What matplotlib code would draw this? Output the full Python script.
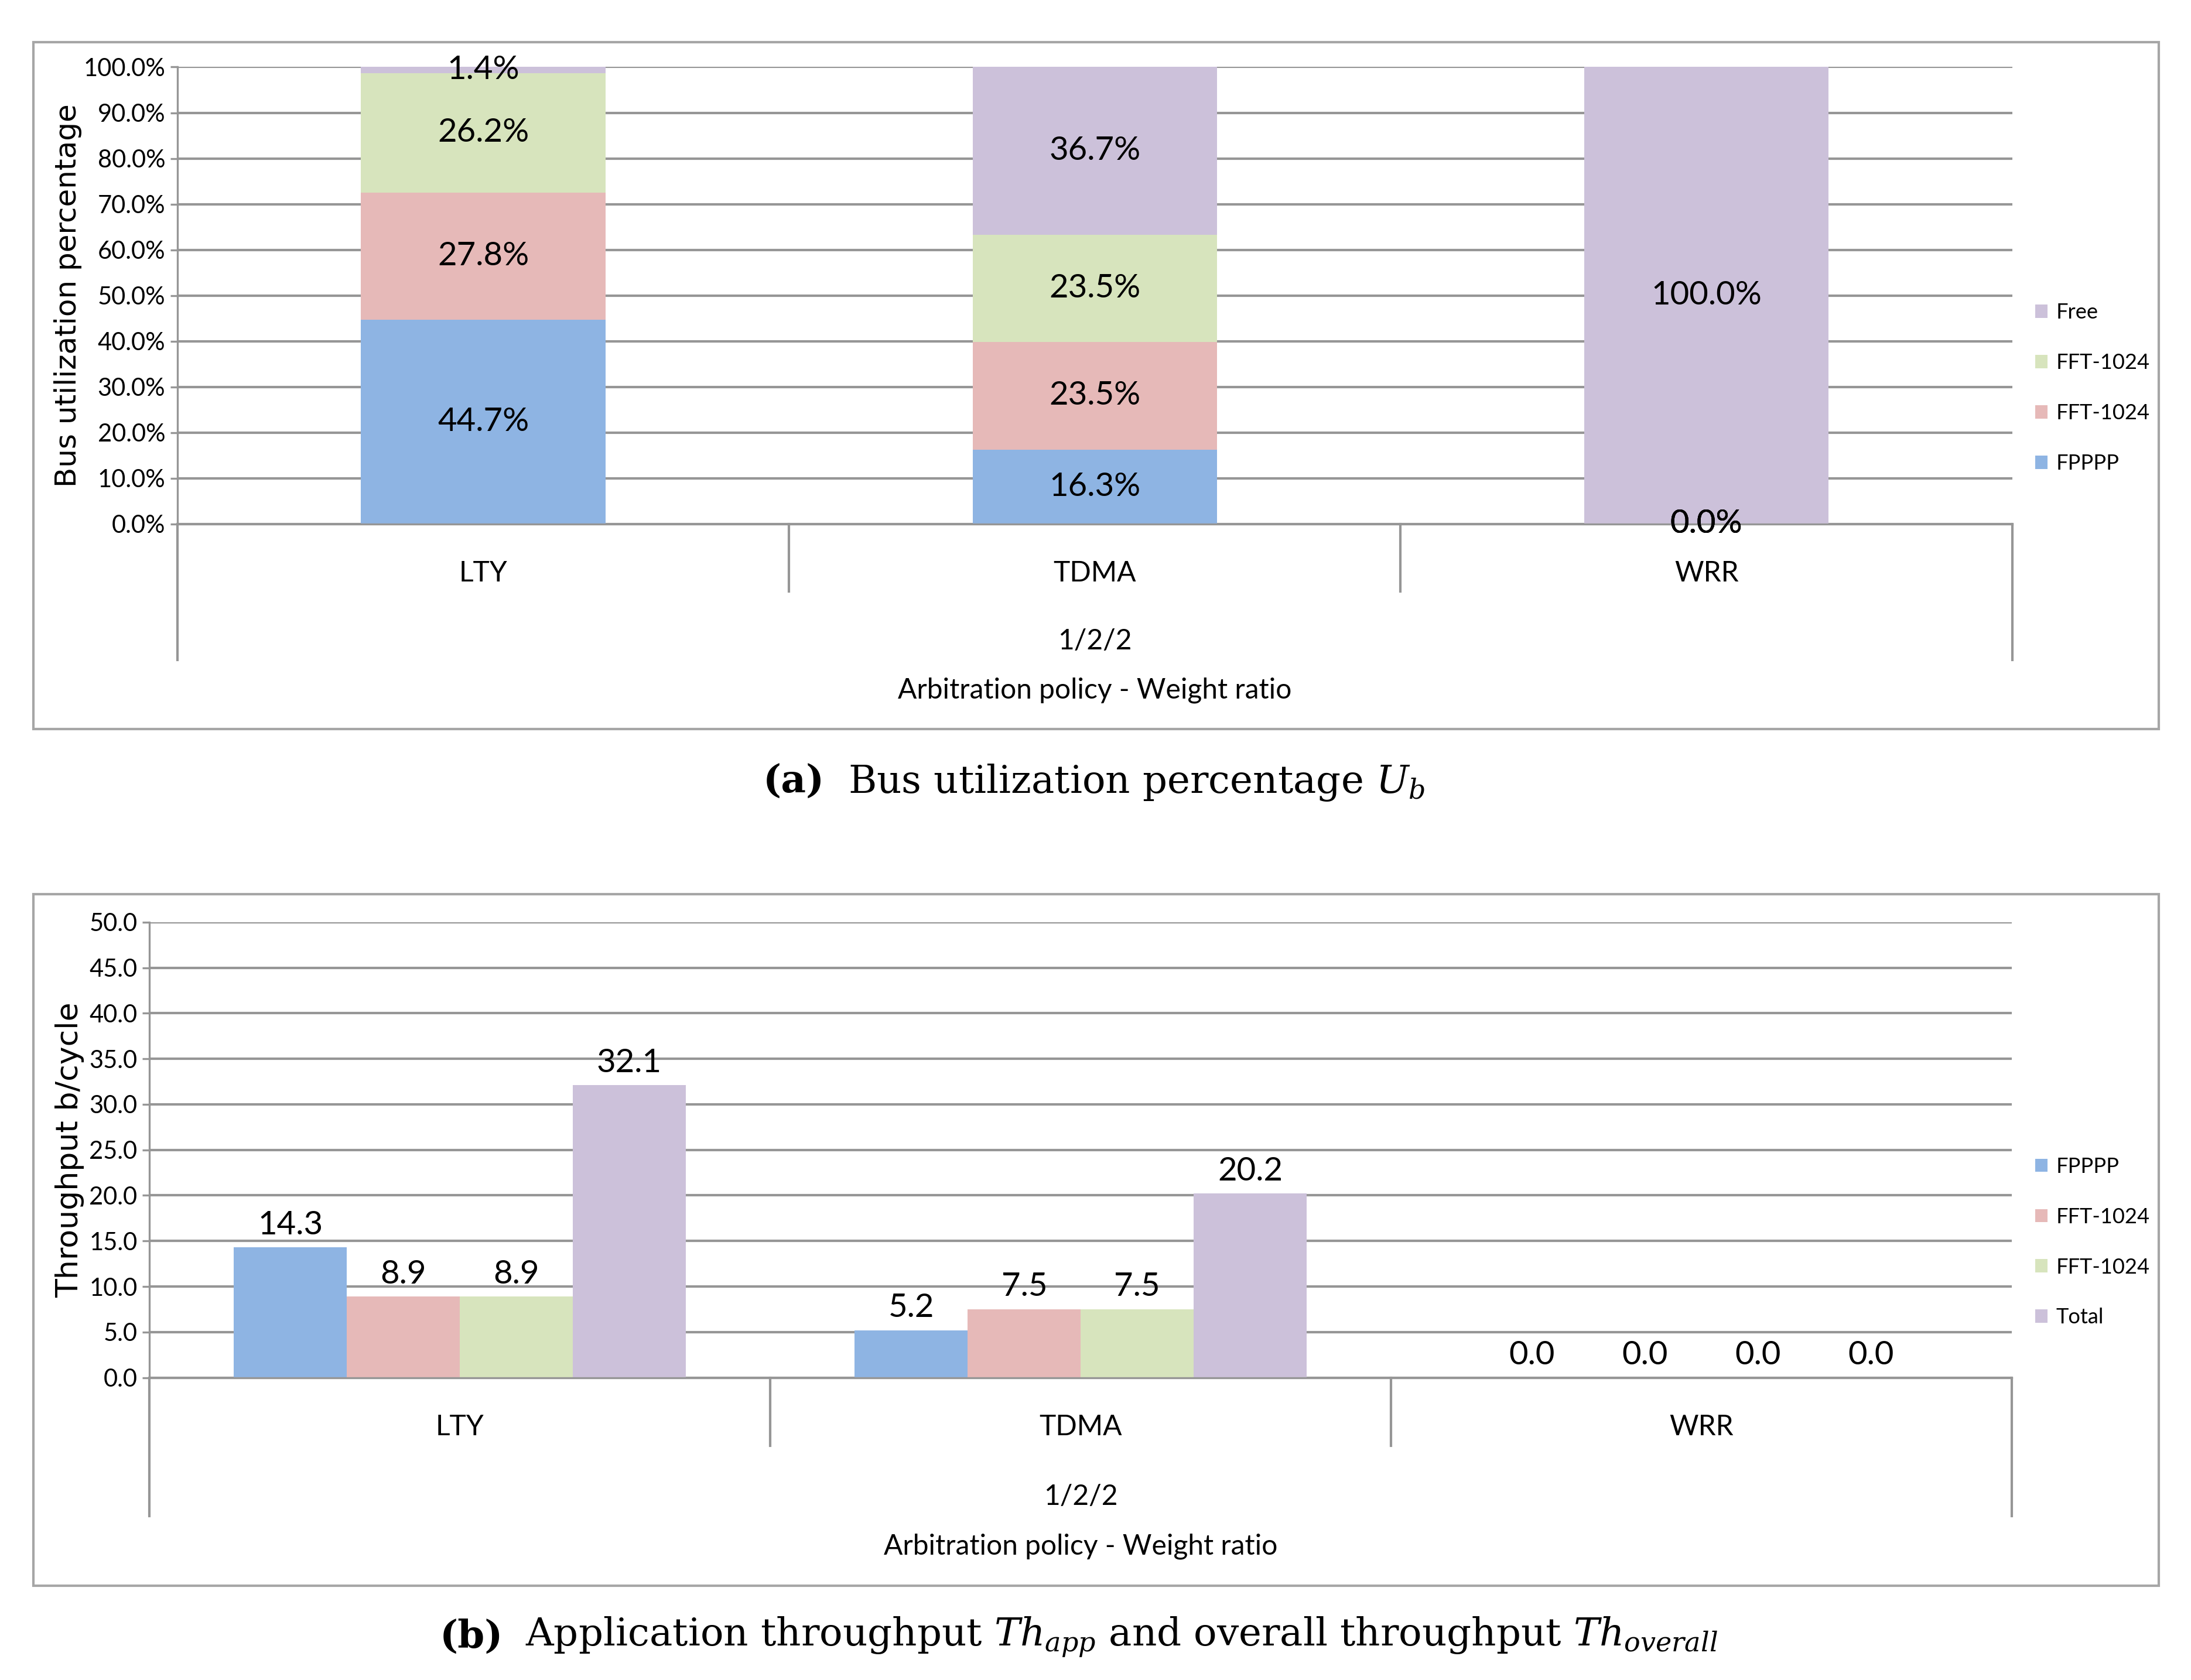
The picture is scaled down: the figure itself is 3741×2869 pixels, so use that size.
import matplotlib
matplotlib.use("Agg")
import matplotlib.pyplot as plt
import matplotlib.transforms as mtransforms
from matplotlib.patches import Rectangle
import numpy as np

# -----------------------------
# data
# -----------------------------
policies = ["LTY", "TDMA", "WRR"]
weight_ratio = "1/2/2"
x_title = "Arbitration policy - Weight ratio"

# (a) bus utilization, stacked, in %
util_fpppp = [44.7, 16.3, 0.0]
util_fft_a = [27.8, 23.5, 0.0]
util_fft_b = [26.2, 23.5, 0.0]
util_free = [1.4, 36.7, 100.0]
util_ticks = np.arange(0, 101, 10)

# (b) throughput b/cycle
thr_fpppp = [14.3, 5.2, 0.0]
thr_fft_a = [8.9, 7.5, 0.0]
thr_fft_b = [8.9, 7.5, 0.0]
thr_total = [32.1, 20.2, 0.0]
thr_ticks = np.arange(0, 50.1, 5)

C_BLUE = "#8eb4e3"
C_RED = "#e6b9b8"
C_GREEN = "#d7e4bd"
C_PURPLE = "#ccc1da"
C_GRID = "#969696"
C_FRAME = "#a6a6a6"

plt.rcParams["font.family"] = ["Lato", "DejaVu Sans"]
plt.rcParams["mathtext.fontset"] = "dejavuserif"

VAL_FS = 13.5
TICK_FS = 10
CAT_FS = 11.5
LEG_FS = 8.7
CAP_FS = 15.8

W, H = 3741, 2869
fig = plt.figure(figsize=(W / 300, H / 300), dpi=300)


def frame(y0, y1):
    fig.patches.append(Rectangle((0.0153, y0), 0.970, y1 - y0, transform=fig.transFigure,
                                 fill=False, edgecolor=C_FRAME, lw=1.0))


def category_axis(ax, sep_depth, outer_depth, lbl_y, ttl_y):
    # two-level category axis like the spreadsheet one
    trans = mtransforms.blended_transform_factory(ax.transData, ax.transAxes)
    for xs in [0.5, 1.5]:
        ax.plot([xs, xs], [0, -sep_depth], color=C_GRID, lw=1.0, transform=trans, clip_on=False)
    for xs in [-0.5, 2.5]:
        ax.plot([xs, xs], [0, -outer_depth], color=C_GRID, lw=1.0, transform=trans, clip_on=False)
    ax.set_xticks(range(len(policies)))
    ax.set_xticklabels(policies, fontsize=CAT_FS)
    ax.tick_params(axis="x", length=0, pad=15)
    ax.text(1, -lbl_y, weight_ratio, transform=trans, ha="center", va="center", fontsize=CAT_FS)
    ax.text(1, -ttl_y, x_title, transform=trans, ha="center", va="center", fontsize=CAT_FS)


def style_axes(ax):
    for s in ["top", "right"]:
        ax.spines[s].set_visible(False)
    ax.spines["left"].set_color(C_GRID)
    ax.spines["bottom"].set_color(C_GRID)
    ax.yaxis.grid(True, color=C_GRID, lw=1.0)
    ax.set_axisbelow(True)
    ax.tick_params(axis="y", length=3, color=C_GRID, labelsize=TICK_FS, pad=2)
    ax.set_xlim(-0.5, 2.5)


def legend(handles, labels, yc):
    fig.legend(handles, labels, loc="center left", bbox_to_anchor=(0.929, yc),
               frameon=False, fontsize=LEG_FS, borderaxespad=0, borderpad=0,
               handlelength=0.58, handleheight=0.58, handletextpad=0.4, labelspacing=1.46)


def caption(x_bold, x_text, y, tag, text):
    fig.text(x_bold, y, tag, ha="right", va="center", fontsize=CAP_FS,
             family="DejaVu Serif", weight="bold")
    fig.text(x_text, y, text, ha="left", va="center", fontsize=CAP_FS, family="DejaVu Serif")


# -----------------------------
# (a) bus utilization
# -----------------------------
frame(0.5659, 0.975)
ax1 = fig.add_axes([0.0810, 0.6881, 0.8374, 0.272])
x = np.arange(len(policies))
bw = 0.40
bottom = np.zeros(len(policies))
series_a = [(util_fpppp, C_BLUE, "FPPPP"), (util_fft_a, C_RED, "FFT-1024"),
            (util_fft_b, C_GREEN, "FFT-1024"), (util_free, C_PURPLE, "Free")]
handles_a = []
for vals, col, name in series_a:
    b = ax1.bar(x, vals, bw, bottom=bottom, color=col, label=name)
    ax1.bar_label(b, labels=[f"{v:.1f}%" for v in vals], label_type="center", fontsize=VAL_FS)
    handles_a.append(b)
    bottom += np.array(vals)
ax1.set_ylim(0, 100)
ax1.set_yticks(util_ticks)
ax1.set_yticklabels([f"{t:.1f}%" for t in util_ticks])
style_axes(ax1)
ax1.set_ylabel("Bus utilization percentage", family="DejaVu Sans", fontsize=12)
ax1.yaxis.set_label_coords(-0.052, 0.5)
category_axis(ax1, 0.147, 0.297, 0.257, 0.364)

legend(handles_a[::-1], [s[2] for s in series_a][::-1], 0.769)
caption(0.3763, 0.3871, 0.5343, "(a)", "Bus utilization percentage $U_b$")

# -----------------------------
# (b) throughput
# -----------------------------
frame(0.0561, 0.4678)
ax2 = fig.add_axes([0.0682, 0.180, 0.8501, 0.2711])
bw2 = 0.182
series_b = [(thr_fpppp, C_BLUE, "FPPPP"), (thr_fft_a, C_RED, "FFT-1024"),
            (thr_fft_b, C_GREEN, "FFT-1024"), (thr_total, C_PURPLE, "Total")]
handles_b = []
for k, (vals, col, name) in enumerate(series_b):
    b = ax2.bar(x + (k - 1.5) * bw2, vals, bw2, color=col, label=name)
    ax2.bar_label(b, labels=[f"{v:.1f}" for v in vals], padding=3, fontsize=VAL_FS)
    handles_b.append(b)
ax2.set_ylim(0, 50)
ax2.set_yticks(thr_ticks)
ax2.set_yticklabels([f"{t:.1f}" for t in thr_ticks])
style_axes(ax2)
ax2.set_ylabel("Throughput b/cycle", family="DejaVu Sans", fontsize=12.5)
ax2.yaxis.set_label_coords(-0.035, 0.5)
category_axis(ax2, 0.150, 0.304, 0.261, 0.371)

legend(handles_b, [s[2] for s in series_b], 0.2607)
caption(0.2296, 0.2398, 0.0254, "(b)",
        "Application throughput $Th_{app}$ and overall throughput $Th_{overall}$")

fig.savefig("out.png", dpi=300, facecolor="white")
